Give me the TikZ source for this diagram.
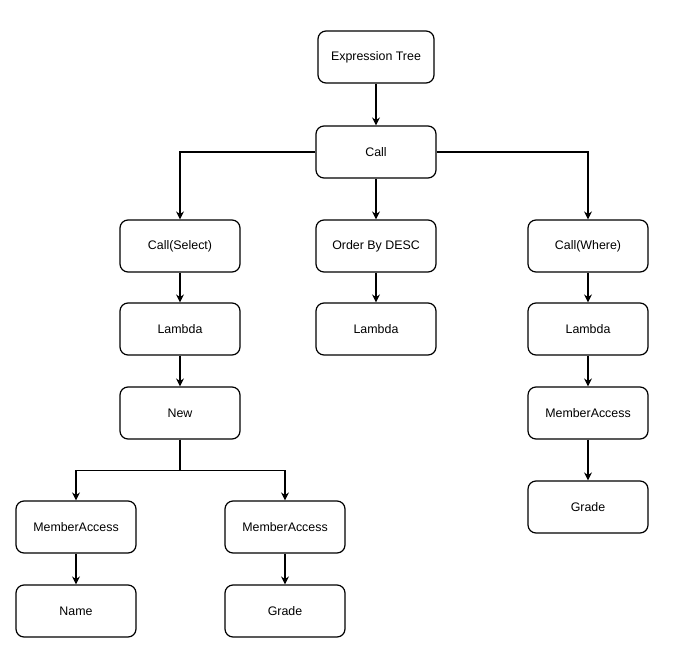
\documentclass[tikz,border=0pt]{standalone}
\usepackage{fontspec}
\setmainfont{Liberation Sans}
\usetikzlibrary{positioning, arrows.meta}

\begin{document}
\begin{tikzpicture}[
    x=1pt, y=-1pt,
    >={Stealth[length=8pt, width=8pt]},
    treenode/.style = {rectangle, rounded corners=8pt, draw=black, line width=1.2pt,
                       minimum width=120pt, minimum height=52pt, inner sep=0pt,
                       font=\fontsize{12.4}{14}\selectfont},
    edge/.style     = {->, line width=1.2pt},
]
\useasboundingbox (0, 0) rectangle (700, 652);

% root
\node[treenode, minimum width=116pt] (root) at (376, 57) {Expression Tree};
\node[treenode] (call) at (376, 152) {Call};

% second level
\node[treenode] (select) at (180, 246) {Call(Select)};
\node[treenode] (order)  at (376, 246) {Order By DESC};
\node[treenode] (where)  at (588, 246) {Call(Where)};

% lambdas
\node[treenode] (lamS) at (180, 329) {Lambda};
\node[treenode] (lamO) at (376, 329) {Lambda};
\node[treenode] (lamW) at (588, 329) {Lambda};

% select branch
\node[treenode] (new)   at (180, 413) {New};
\node[treenode] (maN)   at (76, 527)  {MemberAccess};
\node[treenode] (maG)   at (285, 527) {MemberAccess};
\node[treenode] (name)  at (76, 611)  {Name};
\node[treenode] (gradeS) at (285, 611) {Grade};

% where branch
\node[treenode] (maW)    at (588, 413) {MemberAccess};
\node[treenode] (gradeW) at (588, 507) {Grade};

% edges
\draw[edge] (root) -- (call);
\draw[edge] (call.west) -| (select.north);
\draw[edge] (call) -- (order);
\draw[edge] (call.east) -| (where.north);

\draw[edge] (select) -- (lamS);
\draw[edge] (order) -- (lamO);
\draw[edge] (where) -- (lamW);

\draw[edge] (lamS) -- (new);
\draw[edge] (new.south) -- ++(0, 31) -| (maN.north);
\draw[edge] (new.south) -- ++(0, 31) -| (maG.north);
\draw[edge] (maN) -- (name);
\draw[edge] (maG) -- (gradeS);

\draw[edge] (lamW) -- (maW);
\draw[edge] (maW) -- (gradeW);

\end{tikzpicture}
\end{document}
